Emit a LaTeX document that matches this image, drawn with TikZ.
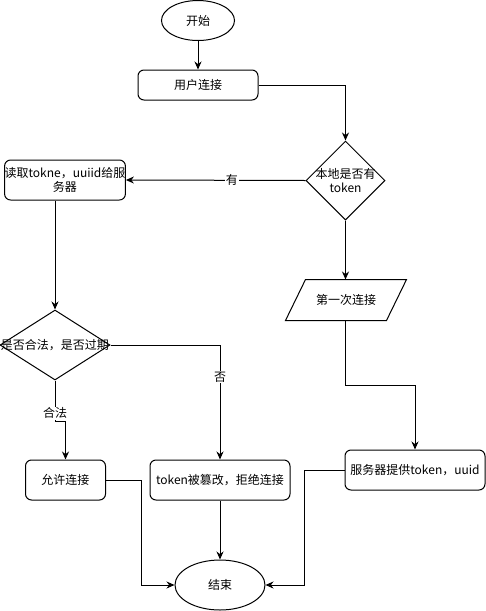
\documentclass[tikz,border=0pt]{standalone}
\usepackage{fontspec}
\setmainfont{Noto Sans CJK SC}
\usetikzlibrary{positioning,shapes,arrows.meta,calc}
\begin{document}
\begin{tikzpicture}[x=1pt,y=-1pt,line width=1pt,>={Stealth[length=8pt,width=7pt]},
  font=\fontsize{12}{14}\selectfont,
  term/.style={draw,ellipse,inner sep=0pt},
  proc/.style={draw,rectangle,rounded corners=6pt,minimum height=40pt,inner sep=0pt,align=center},
  dia/.style={draw,diamond,inner sep=0pt},
  lbl/.style={fill=white,inner sep=1pt}]
\useasboundingbox (0,0) rectangle (486,611);
\node[term,minimum width=73pt,minimum height=40pt] (start) at (198,20.5) {开始};
\node[proc,minimum width=120pt,minimum height=30pt] (user) at (198,85) {用户连接};
\node[dia,minimum width=79pt,minimum height=79pt,label={[align=center]center:{本地是否有\\token}}] (tok) at (345.5,180.5) {};
\node[proc,minimum width=120pt] (read) at (65,180) {读取tokne，uuiid给服\\务器};
\node[minimum width=120pt,minimum height=40pt,inner sep=0pt] (first) at (346,300) {第一次连接};
\draw ([xshift=20pt]first.north west) -- (first.north east) -- ([xshift=-20pt]first.south east) -- (first.south west) -- cycle;
\node[proc,minimum width=140pt] (serv) at (415,470) {服务器提供token，uuid};
\node[dia,minimum width=110pt,minimum height=70pt,label={center:{是否合法，是否过期}}] (chk) at (55,345) {};
\node[proc,minimum width=80pt] (allow) at (65.5,480) {允许连接};
\node[proc,minimum width=140pt] (tamp) at (220,480) {token被篡改，拒绝连接};
\node[term,minimum width=90pt,minimum height=50pt] (end) at (220,585) {结束};
\draw[->] (start) -- (user);
\draw[->] (user.east) -| (tok.north);
\draw[->] (tok.west) -- node[lbl,pos=.41]{有} (read.east);
\draw[->] (tok.south) -- (first.north -| tok.south);
\draw[->] (first.south -| tok.south) -- ++(0,65) -| (serv.north);
\draw[->] (chk.north |- read.south) -- (chk.north);
\draw[->] (chk.east) -| node[lbl,pos=.64]{否} (tamp.north);
\draw[->] (chk.south) -- node[lbl,pos=.8]{合法} ++(0,41) -| (allow.north);
\draw[->] (allow.east) -- ++(35,0) |- (end.west);
\draw[->] (tamp.south) -- (end.north);
\draw[->] (serv.west) -- ++(-40,0) |- (end.east);
\end{tikzpicture}
\end{document}
